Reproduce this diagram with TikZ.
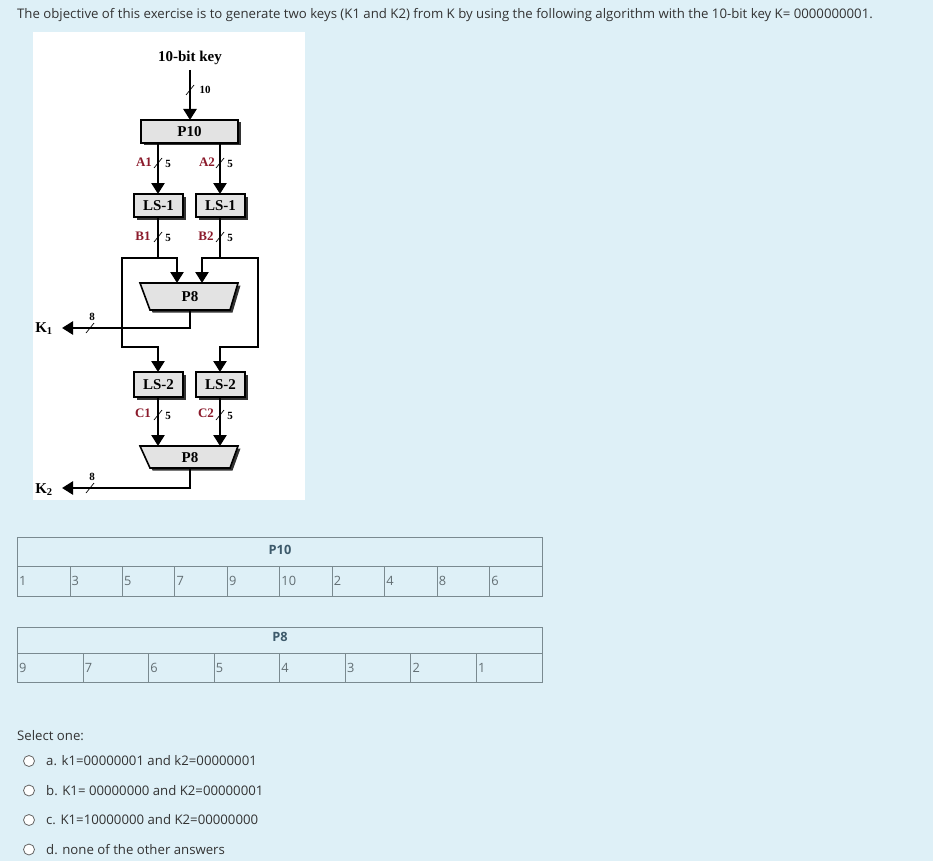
\documentclass[tikz,border=0pt]{standalone}
\usepackage{fontspec}
\setmainfont{Open Sans}
\newfontfamily\tms{Liberation Serif}
\usetikzlibrary{arrows.meta}
\definecolor{bgc}{HTML}{DEF0F7}
\definecolor{txt}{HTML}{333333}
\definecolor{lab}{HTML}{8B1A2B}
\definecolor{grid}{HTML}{7A8A90}
\definecolor{hdr}{HTML}{3D5A6B}
\tikzset{
  x=1pt,y=-1pt,
  ui/.style={font=\fontsize{13.2}{15}\selectfont, text=txt, anchor=west, inner sep=0},
  cell/.style={font=\fontsize{12.8}{14}\selectfont, text=grid!80!black, anchor=west, inner sep=0},
  dg/.style={font=\tms\bfseries\fontsize{15}{16}\selectfont, inner sep=0},
  dgs/.style={font=\tms\bfseries\fontsize{11}{12}\selectfont, inner sep=0},
  rl/.style={font=\tms\bfseries\fontsize{13}{14}\selectfont, text=lab, inner sep=0},
  wire/.style={line width=2.5pt, black},
  arr/.style={wire, -{Triangle[length=11pt,width=13pt]}},
  slash/.style={line width=0.7pt},
  boxf/.style={fill=gray!22, draw=black, line width=1.6pt},
}
\newcommand{\boxsh}[4]{%
  \fill[black!80] (#1+2.5,#2+2.5) rectangle (#3+2.5,#4+2.5);
  \draw[boxf] (#1,#2) rectangle (#3,#4);}
\newcommand{\slsh}[2]{\draw[slash] (#1-4,#2+5) -- (#1+4,#2-5);}
\begin{document}
\begin{tikzpicture}
\fill[bgc] (0,0) rectangle (933,861);
\useasboundingbox (0,0) rectangle (933,861);
\node[ui] (title) at (17,15) {The objective of this exercise is to generate two keys (K1 and K2) from K by using the following algorithm with the 10-bit key K= 0000000001.};
% diagram panel
\fill[white] (33,32) rectangle (305,500);
\node[dg] (key) at (190,58) {10-bit key};
\coordinate (ktop) at (190,70);
% P10
\boxsh{141}{120}{238}{143}
\node[dg] (p10) at (189.5,131.5) {P10};
\draw[arr] (ktop) -- (190,120);
\slsh{190}{90}\node[dgs] at (205,90) {10};
% LS-1
\boxsh{134}{194}{183}{217}
\boxsh{196}{194}{245}{217}
\node[dg] (ls1a) at (158.5,205.5) {LS-1};
\node[dg] (ls1b) at (220.5,205.5) {LS-1};
\draw[arr] (158,143) -- (158,194);
\draw[arr] (220,143) -- (220,194);
\node[rl] at (144,162) {A1};\slsh{158}{163}\node[dgs] at (168,164) {5};
\node[rl] at (207,162) {A2};\slsh{220}{163}\node[dgs] at (230,164) {5};
% P8 first
\fill[black!80] (142.5,285.5) -- (240.5,285.5) -- (232.5,312.5) -- (152.5,312.5) -- cycle;
\draw[boxf] (140,283) -- (238,283) -- (230,310) -- (150,310) -- cycle;
\node[dg] (p8a) at (190,297) {P8};
% wires from LS-1
\draw[wire] (158,217) -- (158,258);
\draw[wire] (220,217) -- (220,258);
\draw[wire] (122,347) -- (122,258) -- (177,258);
\draw[arr] (177,257) -- (177,283);
\draw[wire] (258,347) -- (258,258) -- (202,258);
\draw[arr] (202,257) -- (202,283);
\node[rl] at (143,236) {B1};\slsh{158}{237}\node[dgs] at (168,238) {5};
\node[rl] at (206,236) {B2};\slsh{220}{237}\node[dgs] at (230,238) {5};
% K1
\draw[wire] (190,310) -- (190,328);
\draw[arr] (191.2,328) -- (62,328);
\slsh{90}{328}\node[dgs] at (92,317) {8};
\node[dg] (k1) at (44,329) {K\textsubscript{1}};
% to LS-2
\draw[wire] (120.8,347) -- (158,347);
\draw[arr] (158,346) -- (158,372);
\draw[wire] (259.2,347) -- (220,347);
\draw[arr] (220,346) -- (220,372);
\boxsh{134}{372}{183}{397}
\boxsh{196}{372}{245}{397}
\node[dg] (ls2a) at (158.5,385) {LS-2};
\node[dg] (ls2b) at (220.5,385) {LS-2};
\node[rl] at (143,413) {C1};\slsh{158}{415}\node[dgs] at (168,416) {5};
\node[rl] at (206,413) {C2};\slsh{220}{415}\node[dgs] at (230,416) {5};
\draw[arr] (158,397) -- (158,446);
\draw[arr] (220,397) -- (220,446);
% P8 second
\fill[black!80] (142.5,448.5) -- (240.5,448.5) -- (232.5,470.5) -- (152.5,470.5) -- cycle;
\draw[boxf] (140,446) -- (238,446) -- (230,468) -- (150,468) -- cycle;
\node[dg] (p8b) at (190,458) {P8};
\draw[wire] (190,468) -- (190,488);
\draw[arr] (191.2,488) -- (62,488);
\slsh{90}{488}\node[dgs] at (92,477) {8};
\node[dg] (k2) at (44,490) {K\textsubscript{2}};
% tables
\draw[grid, line width=0.8pt] (17.5,537.5) rectangle (542,596.5);
\draw[grid, line width=0.8pt] (17.5,566.5) -- (542,566.5);
\node[font=\bfseries\fontsize{12.8}{14}\selectfont, text=hdr] (t10) at (280,550) {P10};
\foreach \v [count=\i from 0] in {1,3,5,7,9,10,2,4,8,6}{
  \pgfmathsetmacro\xx{17.5+\i*52.45}
  \ifnum\i>0 \draw[grid, line width=0.8pt] (\xx,566.5) -- (\xx,596.5);\fi
  \node[cell] at (\xx+1.5,581) {\v};
}
\draw[grid, line width=0.8pt] (17.5,627.5) rectangle (542,682.5);
\draw[grid, line width=0.8pt] (17.5,653.5) -- (542,653.5);
\node[font=\bfseries\fontsize{12.8}{14}\selectfont, text=hdr] (t8) at (280,637) {P8};
\foreach \v [count=\i from 0] in {9,7,6,5,4,3,2,1}{
  \pgfmathsetmacro\xx{17.5+\i*65.56}
  \ifnum\i>0 \draw[grid, line width=0.8pt] (\xx,653.5) -- (\xx,682.5);\fi
  \node[cell] at (\xx+1.5,668) {\v};
}
% options
\node[ui] (sel) at (17,736) {Select one:};
\foreach \t [count=\i from 0] in {a. k1=00000001 and k2=00000001, b. K1= 00000000 and K2=00000001, c. K1=10000000 and K2=00000000, d. none of the other answers}{
  \draw[gray!80!black, line width=0.8pt, fill=white] (29,761+\i*29.5) circle (5.5);
  \node[ui] at (46,761+\i*29.5) {\t};
}
\end{tikzpicture}
\end{document}
